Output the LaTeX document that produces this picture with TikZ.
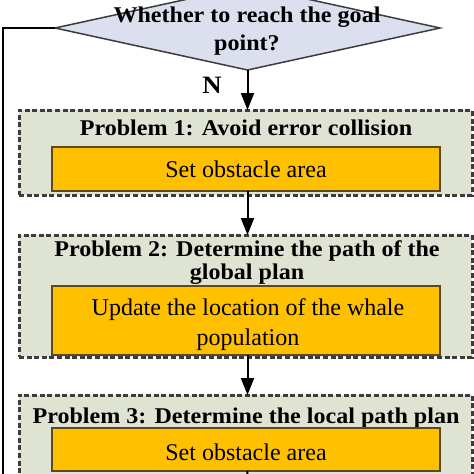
\documentclass[tikz,border=0pt]{standalone}
\usepackage{fontspec}
\setmainfont{Liberation Serif}
\newfontfamily\tb{Liberation Serif}[FakeStretch=1.07]
\usetikzlibrary{shapes.geometric,arrows.meta}
\definecolor{boxfill}{RGB}{223,227,209}
\definecolor{dashgray}{RGB}{60,60,60}
\definecolor{orangefill}{RGB}{255,192,0}
\definecolor{orangeedge}{RGB}{92,74,30}
\definecolor{diafill}{RGB}{220,224,238}
\begin{document}
\begin{tikzpicture}[x=1pt,y=-1pt,
  outerbox/.style={draw=dashgray,fill=boxfill,line width=3pt,dash pattern=on 5pt off 2.6pt,rectangle,inner sep=0pt,outer sep=0pt,minimum width=453pt},
  innerbox/.style={draw=orangeedge,fill=orangefill,line width=1.6pt,rectangle,inner sep=0pt,outer sep=0pt,minimum width=388pt},
  titletext/.style={anchor=base,inner sep=0pt,font=\tb\bfseries\fontsize{22.5}{15}\selectfont},
  bodytext/.style={anchor=base,inner sep=0pt,font=\fontsize{24}{30}\selectfont},
  flow/.style={line width=2pt,-{Triangle[width=13pt,length=17pt]}},
  plain/.style={line width=2pt}]
\useasboundingbox (0,0) rectangle (474,474);
\clip (0,0) rectangle (474,474);
% diamond
\node[diamond,draw=dashgray,fill=diafill,line width=1.5pt,minimum width=385pt,minimum height=84pt,inner sep=0pt,outer sep=0pt] (dia) at (247.5,28) {};
\node[titletext] (diat1) at (247,22) {Whether to reach the goal};
\node[titletext] (diat2) at (247,50) {point?};
\node[anchor=base,inner sep=0pt,font=\tb\bfseries\fontsize{25}{25}\selectfont] (N) at (212,93) {N};
% box 1
\node[outerbox,minimum height=85pt] (b1) at (245.5,152.5) {};
\node[titletext] (t1) at (246,135) {Problem 1: Avoid error collision};
\node[innerbox,minimum height=44pt] (i1) at (246,169) {};
\node[bodytext] (s1) at (246,177) {Set obstacle area};
% box 2
\node[outerbox,minimum height=122pt] (b2) at (245.5,296) {};
\node[titletext,text depth=0pt] (t2a) at (247,256) {Problem 2: Determine the path of the};
\node[titletext,text height=14pt] (t2b) at (247,279) {global plan};
\node[innerbox,minimum height=69pt] (i2) at (246,320.5) {};
\node[bodytext] (s2a) at (248,315) {Update the location of the whale};
\node[bodytext] (s2b) at (248,345) {population};
% box 3
\node[outerbox,minimum height=100pt] (b3) at (245.5,445) {};
\node[titletext] (t3) at (246,423) {Problem 3: Determine the local path plan};
\node[innerbox,minimum height=43pt] (i3) at (246,449.5) {};
\node[bodytext] (s3) at (246,460) {Set obstacle area};
% connectors
\coordinate (loopL) at (3,28);
\coordinate (loopB) at (3,490);
\coordinate (downB) at (247,490);
\draw[plain] (dia.west) -- (loopL) -- (loopB);
\draw[flow] (dia.south) -- (b1.north -| dia.south);
\draw[flow] (i1.south -| dia.south) -- (b2.north -| dia.south);
\draw[flow] (i2.south -| dia.south) -- (b3.north -| dia.south);
\draw[plain] (i3.south -| dia.south) -- (downB);
\end{tikzpicture}
\end{document}
